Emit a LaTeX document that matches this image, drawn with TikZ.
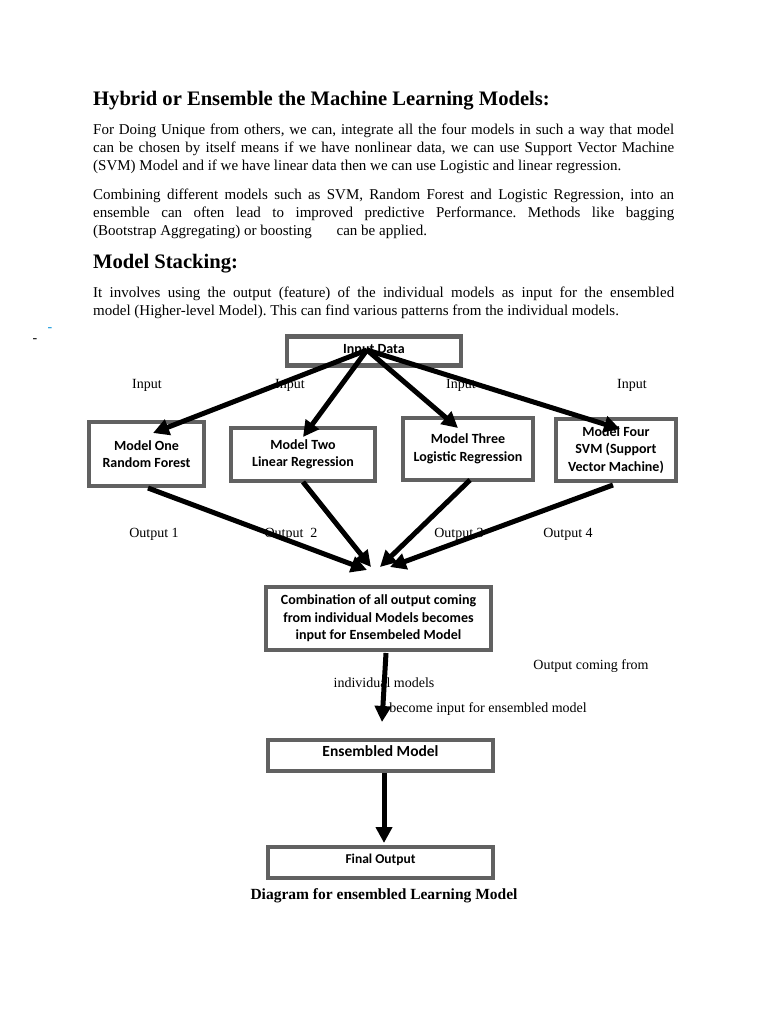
\documentclass[tikz,border=0pt]{standalone}
\usepackage{fontspec}
\setmainfont{Liberation Serif}
\newfontfamily\calibri{Carlito}
\usetikzlibrary{arrows.meta}

\begin{document}
\frenchspacing
\begin{tikzpicture}%
	[x=1pt, y=-1pt,
	box/.style={draw=black!62, line width=4.5pt, fill=white, inner sep=1pt, align=center, font=\calibri\bfseries\fontsize{14}{17.5}\selectfont},
	link/.style={line width=5pt, -{Triangle[length=16pt,width=16pt]}},
	lbl/.style={inner sep=0pt, font=\fontsize{14}{16}\selectfont},
	para/.style={anchor=north west, inner sep=0pt, text width=581pt, align=justify, font=\fontsize{15}{18}\selectfont},
	head/.style={anchor=base west, inner sep=0pt, font=\bfseries\fontsize{20.6}{23}\selectfont}]
%
%% page
\fill[white] (0,0) rectangle (768,1024);
\useasboundingbox (0,0) rectangle (768,1024);
%%
%% Text above the diagram
%%
\node[head] (h1) at (93,106) {Hybrid or Ensemble the Machine Learning Models:};
\node[para] (p1) at (93,124) {For Doing Unique from others, we can, integrate all the four models in such a way that model\linebreak
can be chosen by itself means if we have nonlinear data, we can use Support Vector Machine\linebreak
(SVM) Model and if we have linear data then we can use Logistic and linear regression.};
\node[para] (p2) at (93,189) {Combining different models such as SVM, Random Forest and Logistic Regression, into an\linebreak
ensemble can often lead to improved predictive Performance. Methods like bagging\linebreak
(Bootstrap Aggregating) or boosting\hspace{1.4em} can be applied.};
\node[head] (h2) at (93,268) {Model Stacking:};
\node[para] (p3) at (93,287) {It involves using the output (feature) of the individual models as input for the ensembled\linebreak
model (Higher-level Model). This can find various patterns from the individual models.};
\node[lbl, text=cyan!80!blue] (dashb) at (50,330) {-};
\node[lbl] (dashk) at (35,341) {-};
%%
%% Labels
%%
\node[lbl] (in1) at (147,385) {Input};
\node[lbl] (in2) at (290,385) {Input};
\node[lbl] (in3) at (461,385) {Input};
\node[lbl] (in4) at (632,385) {Input};
\node[lbl] (out1) at (154,534) {Output 1};
\node[lbl] (out2) at (291,534) {Output\ \ 2};
\node[lbl] (out3) at (459,534) {Output 3};
\node[lbl] (out4) at (568,534) {Output 4};
\node[lbl] (ocf) at (591,666) {Output coming from};
\node[lbl] (ocm) at (384,683) {individual models};
\node[lbl] (oce) at (488,709) {become input for ensembled model};
%%
%% Boxes
%%
\node[box, minimum width=174pt, minimum height=29pt] (indata) at (374,351) {Input Data\\[-13.5pt]};
\node[box, minimum width=115pt, minimum height=64pt] (m1) at (146.5,454) {Model One\\Random Forest};
\node[box, minimum width=144pt, minimum height=53pt] (m2) at (303,454.5) {Model Two\\Linear Regression};
\node[box, minimum width=130pt, minimum height=62pt] (m3) at (468,449) {Model Three\\Logistic Regression};
\node[box, minimum width=120pt, minimum height=62pt] (m4) at (616,450) {Model Four\\SVM (Support\\Vector Machine)};
\node[box, minimum width=225pt, minimum height=63pt] (comb) at (378.5,618.5) {Combination of all output coming\\from individual Models becomes\\input for Ensembeled Model};
\node[box, minimum width=225pt, minimum height=31pt, font=\calibri\bfseries\fontsize{15.5}{18}\selectfont] (ens) at (380.5,755.5) {Ensembled Model\\[-9pt]};
\node[box, minimum width=225pt, minimum height=31pt, font=\calibri\bfseries\fontsize{13.5}{15}\selectfont] (fin) at (380.5,862.5) {Final Output\\[-7pt]};
\node[inner sep=0pt, font=\bfseries\fontsize{15.5}{18}\selectfont] (cap) at (384,896) {Diagram for ensembled Learning Model};
%%
%% Arrow ends
%%
\coordinate (hub) at (367,350);
\coordinate (m1in) at (153,433);
\coordinate (m2in) at (303,437);
\coordinate (m3in) at (458,428);
\coordinate (m4in) at (620,429);
\coordinate (m1out) at (148,488);
\coordinate (m2out) at (303,482);
\coordinate (m3out) at (470,480);
\coordinate (m4out) at (613,485);
\coordinate (c1) at (367,570);
\coordinate (c2) at (371,567);
\coordinate (c3) at (380,567);
\coordinate (c4) at (390,567);
\coordinate (combout) at (386,653);
\coordinate (ensin) at (382,722);
\coordinate (ensout) at (384,773);
\coordinate (finin) at (384,843);
%%
%% Arrows
%%
\draw[link] (hub) -- (m1in);
\draw[link] (hub) -- (m2in);
\draw[link] (hub) -- (m3in);
\draw[link] (hub) -- (m4in);
\draw[link] (m1out) -- (c1);
\draw[link] (m2out) -- (c2);
\draw[link] (m3out) -- (c3);
\draw[link] (m4out) -- (c4);
\draw[link] (combout) -- (ensin);
\draw[link] (ensout) -- (finin);
%%
\end{tikzpicture}
\end{document}
